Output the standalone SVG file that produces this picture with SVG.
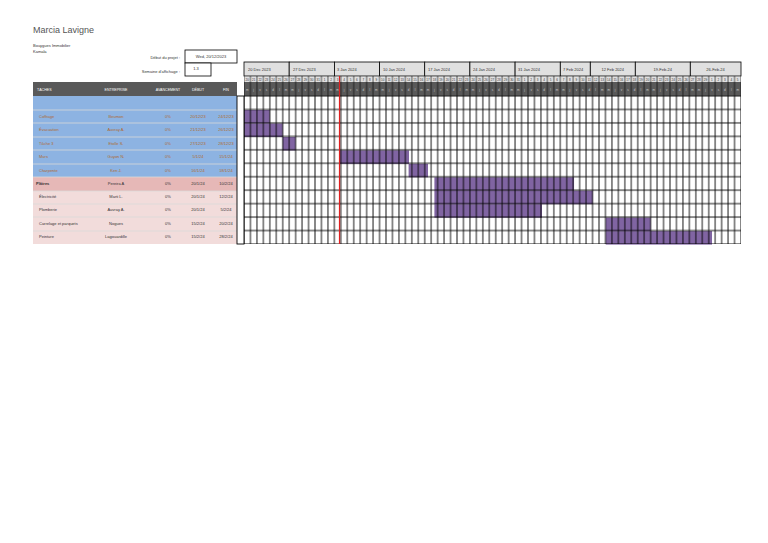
<svg xmlns="http://www.w3.org/2000/svg" width="768" height="543" viewBox="0 0 768 543">
<defs>
<pattern id="cells" patternUnits="userSpaceOnUse" x="244" y="96" width="6.4545" height="13.4545"><rect width="6.4545" height="13.4545" fill="none" stroke="#000" stroke-width="0.9"/></pattern>
<pattern id="dayc" patternUnits="userSpaceOnUse" x="244" y="76" width="6.4545" height="20"><rect width="6.4545" height="20" fill="none" stroke="#000" stroke-width="0.6"/></pattern>
</defs>
<style>
text{font-family:"Liberation Sans",Arial,sans-serif}
.s{font-size:4px;fill:#333}
.h{font-size:3.6px;fill:#fff}
.bt{font-size:4px;fill:#b06a30}
.pt{font-size:4px;fill:#333}
.wk{font-size:4px;fill:#333}
.bar{fill:#8064a2}
.wb{fill:#e0e0e0;stroke:#000;stroke-width:0.8}
</style>
<rect width="768" height="543" fill="#fff"/>
<g id="header">
<text x="33" y="33" font-size="9" fill="#555">Marcia Lavigne</text>
<text x="33" y="47" class="s">Bouygues Immobilier</text>
<text x="33" y="53" class="s">Kamala</text>
<text x="180" y="59" class="s" text-anchor="end">Début du projet :</text>
<rect x="185" y="50" width="52" height="13" fill="#fff" stroke="#000" stroke-width="0.8"/>
<text x="211" y="58" class="s" text-anchor="middle">Wed, 20/12/2023</text>
<text x="180" y="73" class="s" text-anchor="end">Semaine d'affichage :</text>
<rect x="185" y="63" width="26" height="13" fill="#fff" stroke="#000" stroke-width="0.8"/>
<text x="196" y="70" class="s" text-anchor="middle">1.3</text>
</g>
<g id="table">
<rect x="33" y="82" width="204" height="14" fill="#595959"/>
<text x="37" y="91" class="h">TÂCHES</text>
<text x="116" y="91" class="h" text-anchor="middle">ENTREPRISE</text>
<text x="168" y="91" class="h" text-anchor="middle">AVANCEMENT</text>
<text x="198" y="91" class="h" text-anchor="middle">DÉBUT</text>
<text x="226" y="91" class="h" text-anchor="middle">FIN</text>
<rect x="33" y="96" width="204" height="81" fill="#8db3e2"/>
<rect x="33" y="177" width="204" height="14" fill="#e6b8b7"/>
<rect x="33" y="191" width="204" height="53" fill="#f2dcdb"/>
<g stroke="#d9d9d9" stroke-width="0.8">
<line x1="33" y1="110" x2="237" y2="110"/><line x1="33" y1="123" x2="237" y2="123"/><line x1="33" y1="137" x2="237" y2="137"/><line x1="33" y1="150" x2="237" y2="150"/><line x1="33" y1="164" x2="237" y2="164"/><line x1="33" y1="177" x2="237" y2="177"/><line x1="33" y1="191" x2="237" y2="191"/><line x1="33" y1="204" x2="237" y2="204"/><line x1="33" y1="217" x2="237" y2="217"/><line x1="33" y1="231" x2="237" y2="231"/>
</g>
<g class="bt">
<text x="39" y="118" class="bt">Coffrage</text><text x="116" y="118" class="bt" text-anchor="middle">Beumon</text><text x="168" y="118" class="bt" text-anchor="middle">0%</text><text x="198" y="118" class="bt" text-anchor="middle">20/12/23</text><text x="226" y="118" class="bt" text-anchor="middle">24/12/23</text>
<text x="39" y="131" class="bt">Évacuation</text><text x="116" y="131" class="bt" text-anchor="middle">Auvray A.</text><text x="168" y="131" class="bt" text-anchor="middle">0%</text><text x="198" y="131" class="bt" text-anchor="middle">21/12/23</text><text x="226" y="131" class="bt" text-anchor="middle">26/12/23</text>
<text x="39" y="145" class="bt">Tâche 3</text><text x="116" y="145" class="bt" text-anchor="middle">Etolle S.</text><text x="168" y="145" class="bt" text-anchor="middle">0%</text><text x="198" y="145" class="bt" text-anchor="middle">27/12/23</text><text x="226" y="145" class="bt" text-anchor="middle">28/12/23</text>
<text x="39" y="158" class="bt">Murs</text><text x="116" y="158" class="bt" text-anchor="middle">Guyon N.</text><text x="168" y="158" class="bt" text-anchor="middle">0%</text><text x="198" y="158" class="bt" text-anchor="middle">5/1/24</text><text x="226" y="158" class="bt" text-anchor="middle">15/1/24</text>
<text x="39" y="172" class="bt">Charpente</text><text x="116" y="172" class="bt" text-anchor="middle">Ken J.</text><text x="168" y="172" class="bt" text-anchor="middle">0%</text><text x="198" y="172" class="bt" text-anchor="middle">16/1/24</text><text x="226" y="172" class="bt" text-anchor="middle">18/1/24</text>
</g>
<g class="pt">
<text x="36" y="185" class="pt" font-weight="bold">Plâtres</text><text x="116" y="185" class="pt" text-anchor="middle">Pereira A</text><text x="168" y="185" class="pt" text-anchor="middle">0%</text><text x="198" y="185" class="pt" text-anchor="middle">20/1/24</text><text x="226" y="185" class="pt" text-anchor="middle">10/2/24</text>
<text x="39" y="198" class="pt">Électricité</text><text x="116" y="198" class="pt" text-anchor="middle">Marti L.</text><text x="168" y="198" class="pt" text-anchor="middle">0%</text><text x="198" y="198" class="pt" text-anchor="middle">20/1/24</text><text x="226" y="198" class="pt" text-anchor="middle">12/2/24</text>
<text x="39" y="211" class="pt">Plomberie</text><text x="116" y="211" class="pt" text-anchor="middle">Auvray A.</text><text x="168" y="211" class="pt" text-anchor="middle">0%</text><text x="198" y="211" class="pt" text-anchor="middle">20/1/24</text><text x="226" y="211" class="pt" text-anchor="middle">5/2/24</text>
<text x="39" y="225" class="pt">Carrelage et parquets</text><text x="116" y="225" class="pt" text-anchor="middle">Nogues</text><text x="168" y="225" class="pt" text-anchor="middle">0%</text><text x="198" y="225" class="pt" text-anchor="middle">15/2/24</text><text x="226" y="225" class="pt" text-anchor="middle">20/2/24</text>
<text x="39" y="238" class="pt">Peinture</text><text x="116" y="238" class="pt" text-anchor="middle">Lagouardille</text><text x="168" y="238" class="pt" text-anchor="middle">0%</text><text x="198" y="238" class="pt" text-anchor="middle">15/2/24</text><text x="226" y="238" class="pt" text-anchor="middle">28/2/24</text>
</g>
</g>
<g id="timeline">
<g class="wb">
<rect x="244" y="62" width="45.2" height="14"/><rect x="289.2" y="62" width="45.2" height="14"/><rect x="334.4" y="62" width="45.2" height="14"/><rect x="379.6" y="62" width="45.2" height="14"/><rect x="424.7" y="62" width="45.2" height="14"/><rect x="469.9" y="62" width="45.2" height="14"/><rect x="515.1" y="62" width="45.2" height="14"/><rect x="560.3" y="62" width="30" height="14"/><rect x="590.3" y="62" width="45" height="14"/><rect x="635.3" y="62" width="55" height="14"/><rect x="690.3" y="62" width="50.7" height="14"/>
</g>
<g class="wk">
<text x="248" y="71">20 Dec 2023</text><text x="293" y="71">27 Dec 2023</text><text x="337" y="71">3 Jan 2024</text><text x="383" y="71">10 Jan 2024</text><text x="428" y="71">17 Jan 2024</text><text x="473" y="71">24 Jan 2024</text><text x="518" y="71">31 Jan 2024</text><text x="563" y="71">7 Feb 2024</text><text x="612.8" y="71" text-anchor="middle">12 Feb 2024</text><text x="662.8" y="71" text-anchor="middle">19-Feb-24</text><text x="715.6" y="71" text-anchor="middle">26-Feb-24</text>
</g>
<rect x="244" y="76" width="497" height="6" fill="#e0e0e0"/>
<rect x="244" y="82" width="497" height="14" fill="#595959"/>
<rect x="244" y="76" width="497" height="20" fill="url(#dayc)"/>
<text y="80.8" font-size="3" fill="#333" text-anchor="middle"><tspan x="247.2">20</tspan><tspan x="253.7">21</tspan><tspan x="260.1">22</tspan><tspan x="266.6">23</tspan><tspan x="273.0">24</tspan><tspan x="279.5">25</tspan><tspan x="285.9">26</tspan><tspan x="292.4">27</tspan><tspan x="298.8">28</tspan><tspan x="305.3">29</tspan><tspan x="311.7">30</tspan><tspan x="318.2">31</tspan><tspan x="324.7">1</tspan><tspan x="331.1">2</tspan><tspan x="337.6">3</tspan><tspan x="344.0">4</tspan><tspan x="350.5">5</tspan><tspan x="356.9">6</tspan><tspan x="363.4">7</tspan><tspan x="369.8">8</tspan><tspan x="376.3">9</tspan><tspan x="382.7">10</tspan><tspan x="389.2">11</tspan><tspan x="395.7">12</tspan><tspan x="402.1">13</tspan><tspan x="408.6">14</tspan><tspan x="415.0">15</tspan><tspan x="421.5">16</tspan><tspan x="427.9">17</tspan><tspan x="434.4">18</tspan><tspan x="440.8">19</tspan><tspan x="447.3">20</tspan><tspan x="453.7">21</tspan><tspan x="460.2">22</tspan><tspan x="466.7">23</tspan><tspan x="473.1">24</tspan><tspan x="479.6">25</tspan><tspan x="486.0">26</tspan><tspan x="492.5">27</tspan><tspan x="498.9">28</tspan><tspan x="505.4">29</tspan><tspan x="511.8">30</tspan><tspan x="518.3">31</tspan><tspan x="524.7">1</tspan><tspan x="531.2">2</tspan><tspan x="537.7">3</tspan><tspan x="544.1">4</tspan><tspan x="550.6">5</tspan><tspan x="557.0">6</tspan><tspan x="563.5">7</tspan><tspan x="569.9">8</tspan><tspan x="576.4">9</tspan><tspan x="582.8">10</tspan><tspan x="589.3">11</tspan><tspan x="595.7">12</tspan><tspan x="602.2">13</tspan><tspan x="608.7">14</tspan><tspan x="615.1">15</tspan><tspan x="621.6">16</tspan><tspan x="628.0">17</tspan><tspan x="634.5">18</tspan><tspan x="640.9">19</tspan><tspan x="647.4">20</tspan><tspan x="653.8">21</tspan><tspan x="660.3">22</tspan><tspan x="666.7">23</tspan><tspan x="673.2">24</tspan><tspan x="679.7">25</tspan><tspan x="686.1">26</tspan><tspan x="692.6">27</tspan><tspan x="699.0">28</tspan><tspan x="705.5">29</tspan><tspan x="711.9">1</tspan><tspan x="718.4">2</tspan><tspan x="724.8">3</tspan><tspan x="731.3">4</tspan><tspan x="737.7">5</tspan></text>
<text y="90.5" font-size="3" fill="#ccc" text-anchor="middle" x="247.2 253.7 260.1 266.6 273.0 279.5 285.9 292.4 298.8 305.3 311.7 318.2 324.7 331.1 337.6 344.0 350.5 356.9 363.4 369.8 376.3 382.7 389.2 395.7 402.1 408.6 415.0 421.5 427.9 434.4 440.8 447.3 453.7 460.2 466.7 473.1 479.6 486.0 492.5 498.9 505.4 511.8 518.3 524.7 531.2 537.7 544.1 550.6 557.0 563.5 569.9 576.4 582.8 589.3 595.7 602.2 608.7 615.1 621.6 628.0 634.5 640.9 647.4 653.8 660.3 666.7 673.2 679.7 686.1 692.6 699.0 705.5 711.9 718.4 724.8 731.3 737.7">mjvsdlmmjvsdlmmjvsdlmmjvsdlmmjvsdlmmjvsdlmmjvsdlmmjvsdlmmjvsdlmmjvsdlmmjvsdlm</text>
</g>
<g id="bars">
<rect class="bar" x="244" y="110" width="25.8" height="13.5"/>
<rect class="bar" x="244" y="123.5" width="38.7" height="13.5"/>
<rect class="bar" x="282.7" y="137" width="12.9" height="13.5"/>
<rect class="bar" x="340" y="150.4" width="69" height="13.5"/>
<rect class="bar" x="408.6" y="163.8" width="19.4" height="13.5"/>
<rect class="bar" x="434.4" y="177.3" width="139.6" height="13.5"/>
<rect class="bar" x="434.4" y="190.7" width="158.4" height="13.5"/>
<rect class="bar" x="434.4" y="204.2" width="107.6" height="13.5"/>
<rect class="bar" x="605.7" y="217.6" width="45" height="13.5"/>
<rect class="bar" x="605.7" y="231.1" width="106.3" height="13.5"/>
</g>
<g id="grid">
<rect x="244" y="96" width="497" height="148" fill="url(#cells)"/>
<rect x="237" y="96" width="7" height="148" fill="#fff" stroke="#000" stroke-width="0.9"/>
<line x1="339.5" y1="76" x2="339.5" y2="244" stroke="#e02020" stroke-width="1.2"/>
</g>
</svg>
